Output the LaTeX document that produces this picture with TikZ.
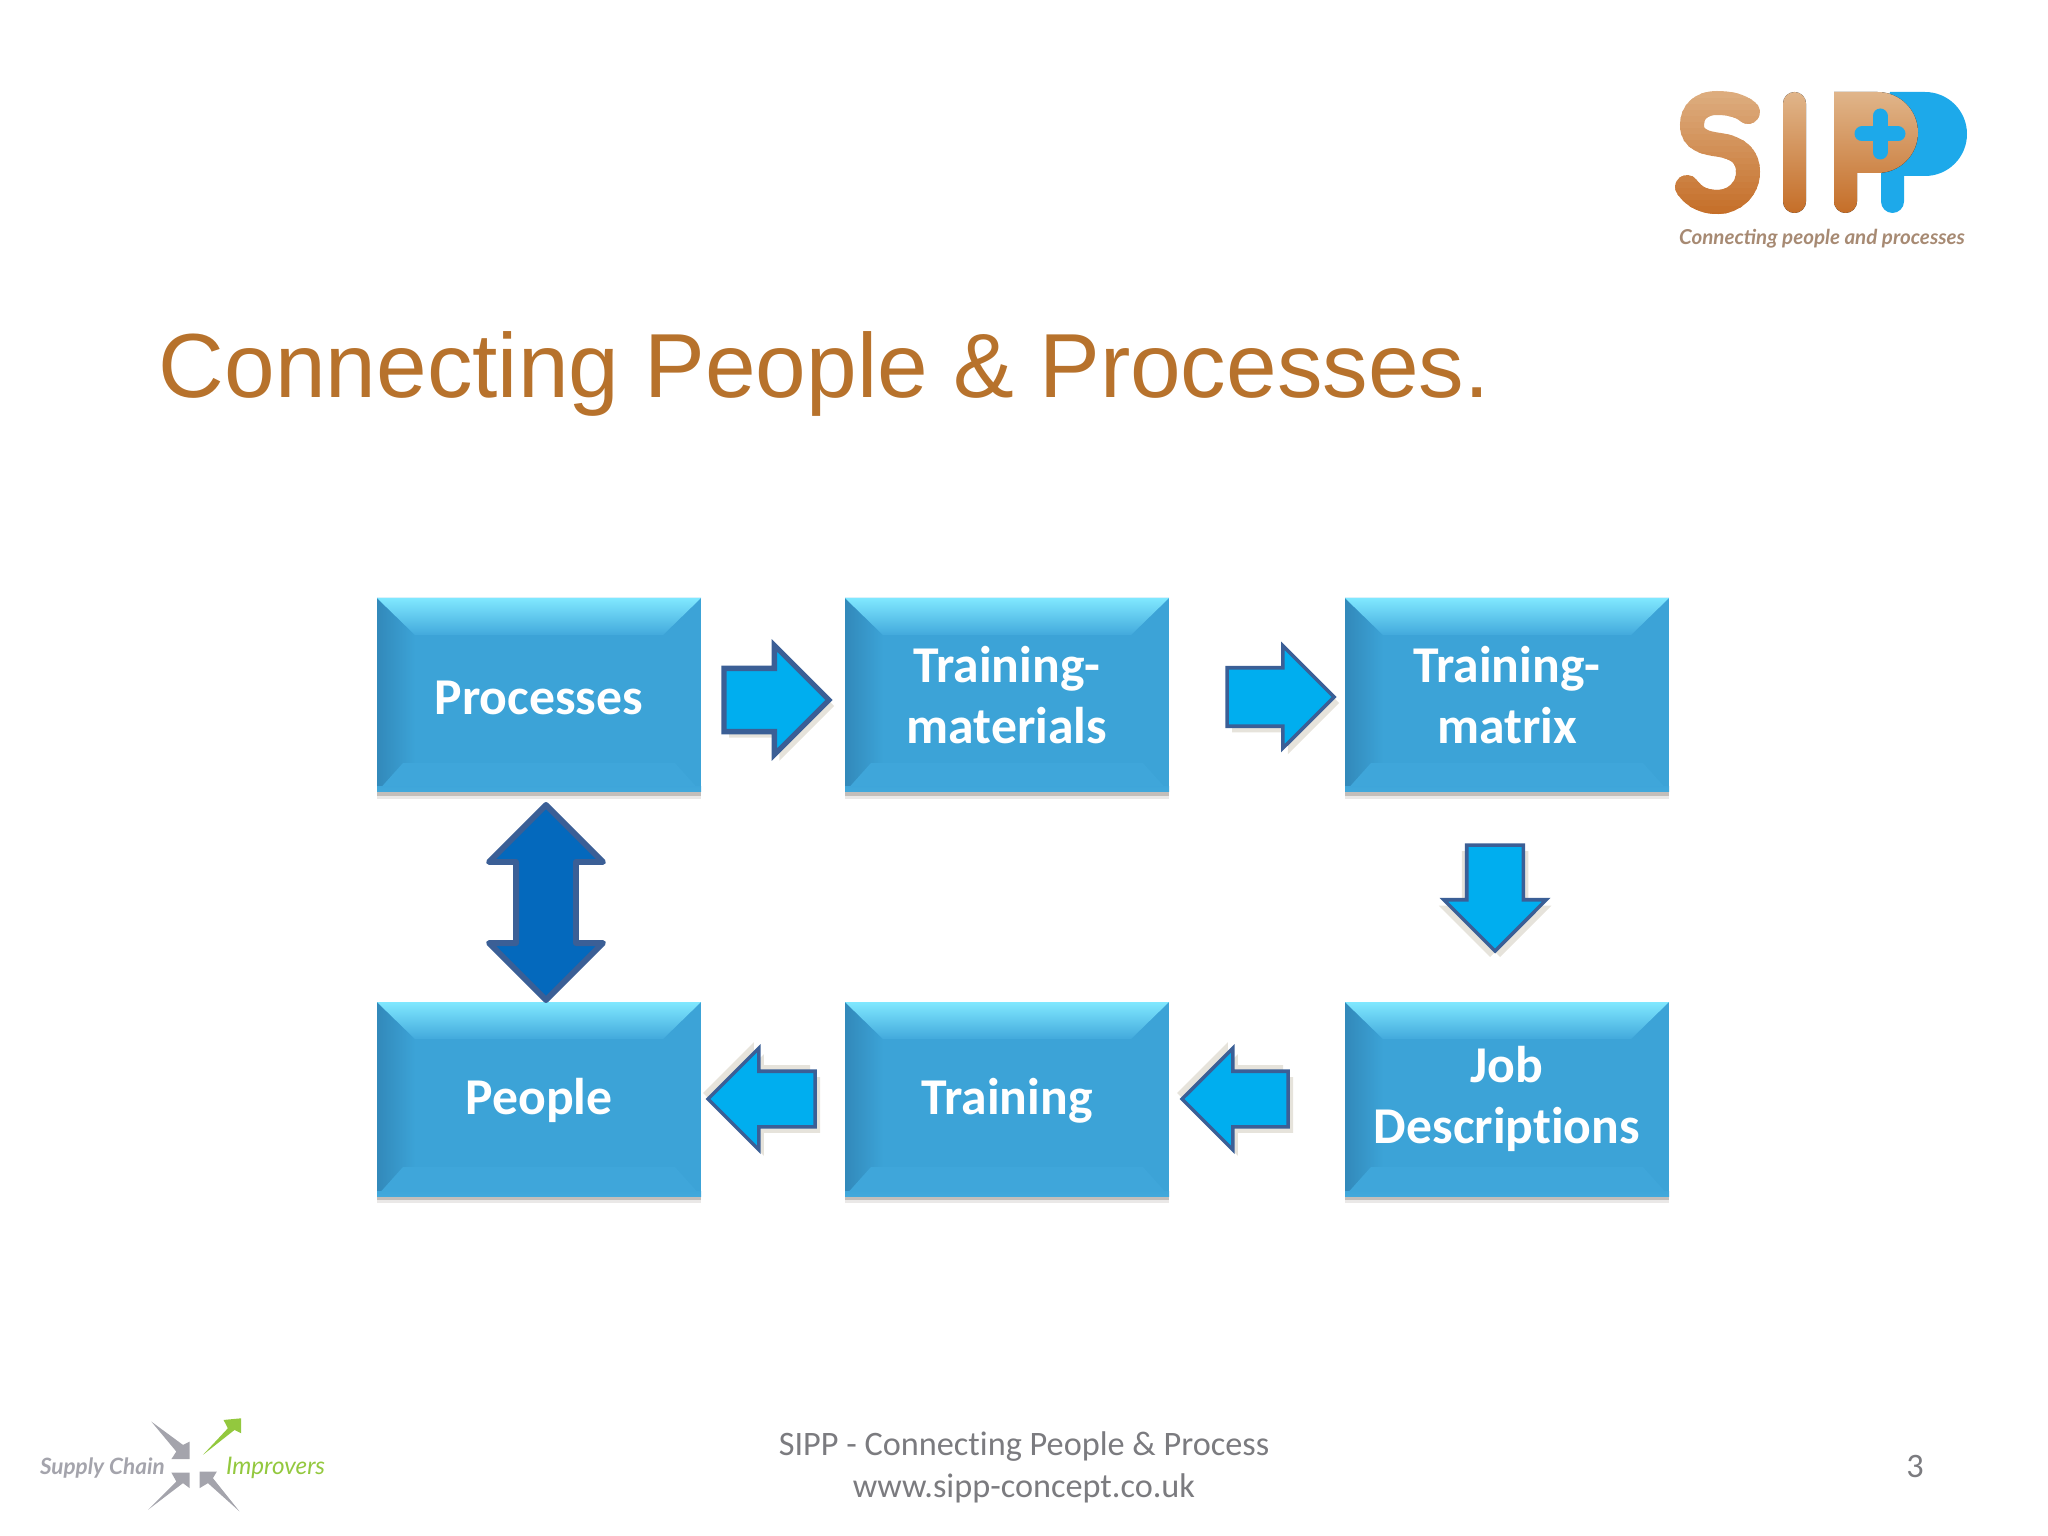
\documentclass[tikz,border=0pt]{standalone}
\usepackage{fontspec}
\setmainfont[Ligatures=NoCommon]{Carlito}
\newfontfamily\titlefont{Liberation Sans}
\newfontfamily\logofont{Lato}
\usetikzlibrary{shapes,arrows,positioning,shadows}
\definecolor{boxblue}{HTML}{3CA3D7}
\definecolor{boxlight}{HTML}{80E8FF}
\definecolor{boxupper}{HTML}{5CC6F4}
\definecolor{boxmid}{HTML}{42A9DC}
\definecolor{boxlow}{HTML}{3FA6DA}
\definecolor{boxdark}{HTML}{3289BA}
\definecolor{shadecol}{HTML}{8A7F78}
\definecolor{arrowblue}{HTML}{00AEEF}
\definecolor{arrowdark}{HTML}{0469BD}
\definecolor{arrowline}{HTML}{3B5F96}
\definecolor{arrowshade}{HTML}{E6E3DB}
\definecolor{titlecol}{HTML}{B7722C}
\definecolor{footcol}{HTML}{7B7B7F}
\definecolor{sipplight}{HTML}{E0B58A}
\definecolor{sippdark}{HTML}{C56E28}
\definecolor{sippblue}{HTML}{1DA9EA}
\definecolor{logogray}{HTML}{A4A4AC}
\definecolor{logogreen}{HTML}{93C83E}
\def\Bevel{
	\coordinate (nw) at (path picture bounding box.north west);
	\coordinate (ne) at (path picture bounding box.north east);
	\coordinate (sw) at (path picture bounding box.south west);
	\coordinate (se) at (path picture bounding box.south east);
	\fill[left color=boxdark,right color=boxblue] (nw) -- ([xshift=.38cm,yshift=-.37cm]nw) -- ([xshift=.38cm,yshift=.29cm]sw) -- (sw) -- cycle;
	\fill[boxlow] (sw) -- ([xshift=.26cm,yshift=.29cm]sw) -- ([xshift=-.26cm,yshift=.29cm]se) -- (se) -- cycle;
	\fill[top color=boxlow,bottom color=boxmid] ([yshift=.05cm]sw) rectangle (se);
	\fill[top color=boxlight,middle color=boxupper,bottom color=boxmid] (nw) -- (ne) -- ([xshift=-.38cm,yshift=-.37cm]ne) -- ([xshift=.38cm,yshift=-.37cm]nw) -- cycle;
}
\def\SCurve{(17.48,-1.12) .. controls (17.40,-1.05) and (17.28,-1.03) .. (17.17,-1.03) .. controls (17.0,-1.03) and (16.92,-1.13) .. (16.92,-1.25) .. controls (16.92,-1.40) and (17.05,-1.43) .. (17.20,-1.45) .. controls (17.38,-1.48) and (17.48,-1.56) .. (17.48,-1.72) .. controls (17.48,-1.90) and (17.33,-2.02) .. (17.18,-2.02) .. controls (17.05,-2.02) and (16.95,-1.98) .. (16.87,-1.87)}

\begin{document}
\begin{tikzpicture}[% one cm of the picture is 100 px of the slide
		every node/.style={
			align=center,		% use this so that the "\\" for line break works
			inner sep=0pt,
			outer sep=0pt
		},
		box/.style={
			rectangle,
			minimum width=3.24cm,
			minimum height=1.94cm,
			fill=boxblue,
			text=white,
			font=\fontsize{14.7}{17.4}\selectfont\bfseries,
			execute at begin node={\rule{0pt}{11.3pt}},	% text sits a little low in the box
			drop shadow={shadow xshift=0cm,shadow yshift=-.07cm,fill=shadecol,opacity=.18},
			drop shadow={shadow xshift=0cm,shadow yshift=-.035cm,fill=shadecol,opacity=.4},
			path picture={\Bevel}
		},
		blockarrow/.style={
			single arrow,
			draw=arrowline,
			fill=arrowblue,
			line width=1pt,
			single arrow head indent=0pt,
			drop shadow={shadow xshift=.05cm,shadow yshift=-.06cm,fill=arrowshade,opacity=1}
		},
		backarrow/.style={
			blockarrow,
			drop shadow={shadow xshift=-.05cm,shadow yshift=.06cm,fill=arrowshade,opacity=1}
		},
		foot/.style={text=footcol,font=\fontsize{9.75}{12}\selectfont}
	]
	\useasboundingbox (0,0) rectangle (20.48,-15.36);
	\node[anchor=base west,text=titlecol,font=\titlefont\fontsize{25.9}{31}\selectfont](T1) at (1.59,-3.98){Connecting People \& Processes.};
	% the six boxes
	\node[box](R1) at (5.39,-6.95){Processes};
	\node[box](R2)[right=1.44cm of R1]{Training-\\materials};
	\node[box](R3)[right=1.76cm of R2]{Training-\\matrix};
	\node[box](R4)[below=2.10cm of R3]{Job\\Descriptions};
	\node[box](R5)[left=1.76cm of R4]{Training};
	\node[box](R6)[left=1.44cm of R5]{People};
	% the arrows between them
	\node[blockarrow,minimum height=1.05cm,inner ysep=.29cm,single arrow head extend=.23cm,line width=1.5pt](A1)[right=.23cm of R1,yshift=-.05cm]{};
	\node[blockarrow,minimum height=1.07cm,inner ysep=.275cm,single arrow head extend=.22cm](A2)[right=.58cm of R2,yshift=-.02cm]{};
	\node[blockarrow,minimum height=1.06cm,inner xsep=.265cm,single arrow head extend=.23cm,shape border rotate=270,
		drop shadow={shadow xshift=-.05cm,shadow yshift=-.06cm,fill=arrowshade,opacity=1}](A3)[below=.53cm of R3,xshift=-.12cm]{};
	\node[backarrow,minimum height=1.07cm,inner ysep=.26cm,single arrow head extend=.23cm,shape border rotate=180](A4)[right=.07cm of R6]{};
	\node[backarrow,minimum height=1.06cm,inner ysep=.26cm,single arrow head extend=.23cm,shape border rotate=180](A5)[right=.13cm of R5]{};
	\node[double arrow,draw=arrowline,fill=arrowdark,line width=1.7pt,line join=round,minimum height=1.95cm,inner xsep=.27cm,double arrow head extend=.27cm,double arrow head indent=0pt,shape border rotate=90](A6)[below=.13cm of R1,xshift=.07cm]{};
	% footer
	\node[foot](F1) at (10.24,-14.67){SIPP - Connecting People \& Process\\www.sipp-concept.co.uk};
	\node[foot](F2) at (19.15,-14.66){3};
	% logo at the top right
	\fill[sippblue] (18.81,-2.015) arc[start angle=180,end angle=360,radius=.115] -- (19.04,-1.76) -- (19.25,-1.76) arc[start angle=-90,end angle=90,radius=.42] -- (18.9,-.92) -- (18.81,-1.3) -- cycle;
	\foreach \i in {0,...,23}{
		\pgfmathsetmacro{\pct}{\i*100/23}
		\begin{scope}
			\clip (16.5,-.75-\i*.06) rectangle (17.8,-.81-\i*.06-.005);
			\draw[sippdark!\pct!sipplight,line width=.24cm,line cap=round] \SCurve;
		\end{scope}
	}
	\fill[rounded corners=.115cm,top color=sipplight,bottom color=sippdark] (17.83,-.92) rectangle (18.06,-2.13);
	\fill[top color=sipplight,bottom color=sippdark] (18.34,-2.015) arc[start angle=180,end angle=360,radius=.115] -- (18.57,-1.73) -- (18.775,-1.73) arc[start angle=-90,end angle=90,radius=.405] -- (18.34,-.92) -- cycle;
	\draw[sippblue,line width=.15cm,line cap=round] (18.80,-1.16) -- (18.80,-1.52) (18.62,-1.34) -- (18.98,-1.34);
	\node[anchor=base,text=sippdark!55!black!60,font=\logofont\bfseries\itshape\fontsize{5.85}{7}\selectfont](L1) at (18.22,-2.45){Connecting people and processes};
	% logo at the bottom left
	\begin{scope}[shift={(.2,-14)},x=.00333cm,y=-.00333cm]
		\fill[logogray] (395,65) -- (490,135) -- (510,125) -- (510,178) -- (455,178) -- (470,155) -- cycle;
		\fill[logogray] (385,330) -- (470,245) -- (455,218) -- (510,218) -- (510,265) -- (490,250) -- cycle;
		\fill[logogray] (660,335) -- (565,250) -- (540,265) -- (540,215) -- (592,215) -- (580,235) -- cycle;
		\fill[logogreen] (550,165) -- (625,85) -- (612,60) -- (665,55) -- (665,100) -- (645,90) -- cycle;
	\end{scope}
	\node[anchor=base west,text=logogray,font=\logofont\bfseries\itshape\fontsize{6.4}{9}\selectfont](L2) at (.40,-14.74){Supply Chain};
	\node[anchor=base west,text=logogreen,font=\logofont\itshape\fontsize{6.9}{9}\selectfont](L3) at (2.26,-14.74){Improvers};
\end{tikzpicture}
\end{document}
